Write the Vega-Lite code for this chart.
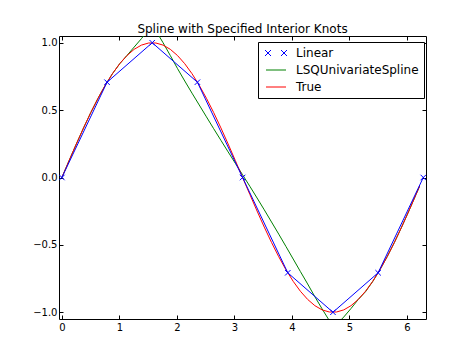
{
  "$schema": "https://vega.github.io/schema/vega-lite/v6.json",
  "width": 367,
  "height": 283,
  "autosize": {"type": "none"},
  "padding": {"left": 59, "top": 36, "right": 48, "bottom": 36},
  "background": "white",
  "title": {"text": "Spline with Specified Interior Knots", "font": "DejaVu Sans", "fontSize": 12, "fontWeight": "normal", "color": "black", "anchor": "middle", "offset": 0},
  "config": {"view": {"stroke": "black", "strokeWidth": 1}},
  "datasets": {
    "linear": [
      {"x": 0, "y": 0}, {"x": 0.7854, "y": 0.7071}, {"x": 1.5708, "y": 1}, {"x": 2.3562, "y": 0.7071},
      {"x": 3.1416, "y": 0}, {"x": 3.927, "y": -0.7071}, {"x": 4.7124, "y": -1}, {"x": 5.4978, "y": -0.7071},
      {"x": 6.2832, "y": 0}
    ],
    "spline": [
      {"x": 0, "y": 0}, {"x": 0.1257, "y": 0.1253}, {"x": 0.2513, "y": 0.2487}, {"x": 0.377, "y": 0.3681},
      {"x": 0.5027, "y": 0.4818}, {"x": 0.6283, "y": 0.5878}, {"x": 0.754, "y": 0.6845}, {"x": 0.8796, "y": 0.7705},
      {"x": 1.0053, "y": 0.8443}, {"x": 1.131, "y": 0.905}, {"x": 1.2566, "y": 0.968}, {"x": 1.3823, "y": 1.03},
      {"x": 1.508, "y": 1.1}, {"x": 1.6336, "y": 1.09}, {"x": 1.7593, "y": 1.0}, {"x": 1.885, "y": 0.905},
      {"x": 2.0106, "y": 0.808}, {"x": 2.1363, "y": 0.716}, {"x": 2.2619, "y": 0.626}, {"x": 2.3876, "y": 0.538},
      {"x": 2.5133, "y": 0.45}, {"x": 2.6389, "y": 0.362}, {"x": 2.7646, "y": 0.276}, {"x": 2.8903, "y": 0.19},
      {"x": 3.0159, "y": 0.105}, {"x": 3.1416, "y": 0.02}, {"x": 3.2673, "y": -0.065}, {"x": 3.3929, "y": -0.152},
      {"x": 3.5186, "y": -0.24}, {"x": 3.6442, "y": -0.33}, {"x": 3.7699, "y": -0.42}, {"x": 3.8956, "y": -0.512},
      {"x": 4.0212, "y": -0.605}, {"x": 4.1469, "y": -0.698}, {"x": 4.2726, "y": -0.79}, {"x": 4.3982, "y": -0.885},
      {"x": 4.5239, "y": -0.975}, {"x": 4.6496, "y": -1.062}, {"x": 4.7752, "y": -1.09}, {"x": 4.9009, "y": -1.035},
      {"x": 5.0265, "y": -0.972}, {"x": 5.1522, "y": -0.905}, {"x": 5.2779, "y": -0.848}, {"x": 5.4035, "y": -0.772},
      {"x": 5.5292, "y": -0.6845}, {"x": 5.6549, "y": -0.5878}, {"x": 5.7805, "y": -0.4818}, {"x": 5.9062, "y": -0.3681},
      {"x": 6.0319, "y": -0.2487}, {"x": 6.1575, "y": -0.1253}, {"x": 6.2204, "y": -0.0628}
    ],
    "true": [
      {"x": 0, "y": 0}, {"x": 0.1257, "y": 0.1253}, {"x": 0.2513, "y": 0.2487}, {"x": 0.377, "y": 0.3681},
      {"x": 0.5027, "y": 0.4818}, {"x": 0.6283, "y": 0.5878}, {"x": 0.754, "y": 0.6845}, {"x": 0.8796, "y": 0.7705},
      {"x": 1.0053, "y": 0.8443}, {"x": 1.131, "y": 0.9048}, {"x": 1.2566, "y": 0.9511}, {"x": 1.3823, "y": 0.9823},
      {"x": 1.508, "y": 0.998}, {"x": 1.6336, "y": 0.998}, {"x": 1.7593, "y": 0.9823}, {"x": 1.885, "y": 0.9511},
      {"x": 2.0106, "y": 0.9048}, {"x": 2.1363, "y": 0.8443}, {"x": 2.2619, "y": 0.7705}, {"x": 2.3876, "y": 0.6845},
      {"x": 2.5133, "y": 0.5878}, {"x": 2.6389, "y": 0.4818}, {"x": 2.7646, "y": 0.3681}, {"x": 2.8903, "y": 0.2487},
      {"x": 3.0159, "y": 0.1253}, {"x": 3.1416, "y": 0}, {"x": 3.2673, "y": -0.1253}, {"x": 3.3929, "y": -0.2487},
      {"x": 3.5186, "y": -0.3681}, {"x": 3.6442, "y": -0.4818}, {"x": 3.7699, "y": -0.5878}, {"x": 3.8956, "y": -0.6845},
      {"x": 4.0212, "y": -0.7705}, {"x": 4.1469, "y": -0.8443}, {"x": 4.2726, "y": -0.9048}, {"x": 4.3982, "y": -0.9511},
      {"x": 4.5239, "y": -0.9823}, {"x": 4.6496, "y": -0.998}, {"x": 4.7752, "y": -0.998}, {"x": 4.9009, "y": -0.9823},
      {"x": 5.0265, "y": -0.9511}, {"x": 5.1522, "y": -0.9048}, {"x": 5.2779, "y": -0.8443}, {"x": 5.4035, "y": -0.7705},
      {"x": 5.5292, "y": -0.6845}, {"x": 5.6549, "y": -0.5878}, {"x": 5.7805, "y": -0.4818}, {"x": 5.9062, "y": -0.3681},
      {"x": 6.0319, "y": -0.2487}, {"x": 6.1575, "y": -0.1253}, {"x": 6.2204, "y": -0.0628}
    ]
  },
  "layer": [
    {
      "data": {"name": "spline"},
      "mark": {"type": "line", "strokeWidth": 1, "clip": true},
      "encoding": {
        "x": {"field": "x", "type": "quantitative", "scale": {"domain": [-0.05, 6.33], "nice": false, "zero": false},
          "axis": {"orient": "bottom", "values": [0, 1, 2, 3, 4, 5, 6], "format": "d", "title": null, "domain": false, "grid": false,
            "tickSize": -4, "tickColor": "black", "labelFont": "DejaVu Sans", "labelFontSize": 10, "labelColor": "black", "labelPadding": 7}},
        "y": {"field": "y", "type": "quantitative", "scale": {"domain": [-1.05, 1.05], "nice": false, "zero": false},
          "axis": {"orient": "left", "values": [-1, -0.5, 0, 0.5, 1], "format": ".1f", "title": null, "domain": false, "grid": false,
            "tickSize": -4, "tickColor": "black", "labelFont": "DejaVu Sans", "labelFontSize": 10, "labelColor": "black", "labelPadding": 6}},
        "color": {"datum": "LSQUnivariateSpline", "type": "nominal",
          "scale": {"domain": ["Linear", "LSQUnivariateSpline", "True"], "range": ["#0000ff", "#008000", "#ff0000"]},
          "legend": {"title": null, "orient": "none", "legendX": 199, "legendY": 6, "fillColor": "white", "strokeColor": "black",
            "padding": 5, "cornerRadius": 0, "labelFont": "DejaVu Sans", "labelFontSize": 12, "labelColor": "black",
            "symbolOffset": 7, "labelOffset": 14, "rowPadding": 5, "symbolSize": 100, "symbolStrokeWidth": 1,
            "encode": {"symbols": {"update": {
              "shape": {"signal": "datum.value === 'Linear' ? 'M-2.2,-0.6L-1,0.6M-2.2,0.6L-1,-0.6M1,-0.6L2.2,0.6M1,0.6L2.2,-0.6' : 'M-2,0L2,0'"},
              "stroke": {"signal": "scale('color', datum.value)"},
              "fill": {"value": "transparent"},
              "strokeWidth": {"value": 1},
              "opacity": {"value": 1}
            }}}}}
      }
    },
    {
      "data": {"name": "true"},
      "mark": {"type": "line", "strokeWidth": 1, "clip": true},
      "encoding": {
        "x": {"field": "x", "type": "quantitative",
          "axis": {"orient": "top", "values": [0, 1, 2, 3, 4, 5, 6], "labels": false, "title": null, "domain": false, "grid": false, "tickSize": -4, "tickColor": "black"}},
        "y": {"field": "y", "type": "quantitative",
          "axis": {"orient": "right", "values": [-1, -0.5, 0, 0.5, 1], "labels": false, "title": null, "domain": false, "grid": false, "tickSize": -4, "tickColor": "black"}},
        "color": {"datum": "True", "type": "nominal"}
      }
    },
    {
      "data": {"name": "linear"},
      "mark": {"type": "point", "shape": "M-1,-1L1,1M-1,1L1,-1", "filled": false, "size": 30, "strokeWidth": 1, "opacity": 1, "clip": true},
      "encoding": {
        "x": {"field": "x", "type": "quantitative", "axis": null},
        "y": {"field": "y", "type": "quantitative", "axis": null},
        "color": {"datum": "Linear", "type": "nominal"}
      }
    },
    {
      "data": {"name": "linear"},
      "mark": {"type": "line", "strokeWidth": 1, "clip": true, "color": "#0000ff"},
      "encoding": {
        "x": {"field": "x", "type": "quantitative", "axis": null},
        "y": {"field": "y", "type": "quantitative", "axis": null}
      }
    }
  ],
  "resolve": {"axis": {"x": "independent", "y": "independent"}}
}
